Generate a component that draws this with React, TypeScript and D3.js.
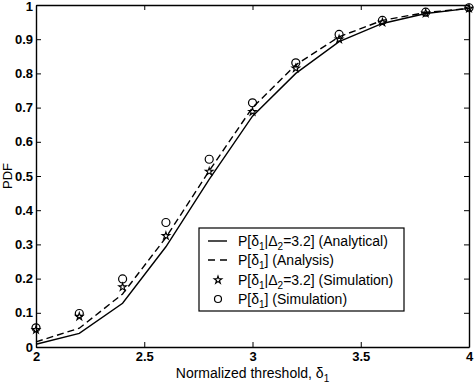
import * as d3 from "d3";
import { useEffect, useRef } from "react";

// normalized threshold values (x)
const thresholds = [2, 2.2, 2.4, 2.6, 2.8, 3.0, 3.2, 3.4, 3.6, 3.8, 4.0];
// P[d1|D2=3.2] analytical (solid)
const analyticalCond = [0.008, 0.04, 0.128, 0.293, 0.49, 0.675, 0.8, 0.893, 0.946, 0.975, 0.99];
// P[d1] analysis (dashed)
const analysisUncond = [0.015, 0.055, 0.155, 0.32, 0.515, 0.7, 0.825, 0.907, 0.955, 0.978, 0.99];
// P[d1|D2=3.2] simulation (stars)
const simCond = [0.05, 0.089, 0.175, 0.325, 0.513, 0.688, 0.815, 0.9, 0.949, 0.976, 0.99];
// P[d1] simulation (circles)
const simUncond = [0.056, 0.098, 0.199, 0.364, 0.549, 0.714, 0.831, 0.914, 0.955, 0.979, 0.992];

const xTicks = [2, 2.5, 3, 3.5, 4];
const yTicks = [0, 0.1, 0.2, 0.3, 0.4, 0.5, 0.6, 0.7, 0.8, 0.9, 1];

const W = 474;
const H = 384;
const FONT = "'Liberation Sans', Arial, Helvetica, sans-serif";

export default function App() {
  const ref = useRef<SVGSVGElement>(null);

  useEffect(() => {
    const svg = d3.select(ref.current);
    svg.selectAll("*").remove();

    const left = 36, right = 469, top = 5, bottom = 347;

    const x = d3.scaleLinear().domain([2, 4]).range([left, right]);
    const y = d3.scaleLinear().domain([0, 1]).range([bottom, top]);

    svg.append("rect").attr("width", W).attr("height", H).attr("fill", "white");

    // axes (MATLAB box style, ticks pointing inward)
    const styleAxis = (g: any) => {
      g.selectAll(".domain").attr("stroke", "#000").attr("stroke-width", 1.4).attr("fill", "none");
      g.selectAll(".tick line").attr("stroke", "#000").attr("stroke-width", 1);
      g.selectAll("text")
        .attr("font-family", FONT)
        .attr("font-size", 13)
        .attr("font-weight", "bold")
        .attr("fill", "#000");
    };

    svg.append("g")
      .attr("transform", `translate(0,${bottom})`)
      .call(d3.axisBottom(x).tickValues(xTicks).tickSizeInner(-5).tickSizeOuter(0).tickPadding(5).tickFormat(d3.format("")))
      .call(styleAxis);
    svg.append("g")
      .attr("transform", `translate(0,${top})`)
      .call(d3.axisTop(x).tickValues(xTicks).tickSizeInner(-5).tickSizeOuter(0).tickFormat(() => ""))
      .call(styleAxis);
    const yAxisG = svg.append("g")
      .attr("transform", `translate(${left},0)`)
      .call(d3.axisLeft(y).tickValues(yTicks).tickSizeInner(-5).tickSizeOuter(0).tickPadding(3).tickFormat(d3.format("")))
      .call(styleAxis);
    // keep the top label inside the picture
    yAxisG.selectAll(".tick text").filter((d: any) => d === 1).attr("dy", "0.45em");
    svg.append("g")
      .attr("transform", `translate(${right},0)`)
      .call(d3.axisRight(y).tickValues(yTicks).tickSizeInner(-5).tickSizeOuter(0).tickFormat(() => ""))
      .call(styleAxis);

    // curves
    const line = d3.line<number>()
      .x((_, i) => x(thresholds[i]))
      .y((d) => y(d));

    svg.append("path")
      .attr("d", line(analyticalCond))
      .attr("fill", "none")
      .attr("stroke", "#000")
      .attr("stroke-width", 1.4);
    svg.append("path")
      .attr("d", line(analysisUncond))
      .attr("fill", "none")
      .attr("stroke", "#000")
      .attr("stroke-width", 1.4)
      .attr("stroke-dasharray", "7,4");

    const star = d3.symbol().type(d3.symbolStar).size(18);

    svg.append("g").selectAll("path")
      .data(simCond)
      .enter()
      .append("path")
      .attr("d", star)
      .attr("transform", (d, i) => `translate(${x(thresholds[i])},${y(d)})`)
      .attr("fill", "none")
      .attr("stroke", "#000")
      .attr("stroke-width", 1.1);

    svg.append("g").selectAll("circle")
      .data(simUncond)
      .enter()
      .append("circle")
      .attr("cx", (d, i) => x(thresholds[i]))
      .attr("cy", (d) => y(d))
      .attr("r", 4)
      .attr("fill", "none")
      .attr("stroke", "#000")
      .attr("stroke-width", 1.2);

    // axis titles
    const xl = svg.append("text")
      .attr("x", (left + right) / 2)
      .attr("y", 378)
      .attr("text-anchor", "middle")
      .attr("font-family", FONT)
      .attr("font-size", 14)
      .attr("fill", "#000");
    xl.append("tspan").text("Normalized threshold, δ");
    xl.append("tspan").attr("font-size", 10).attr("dy", 4).text("1");

    svg.append("text")
      .attr("transform", `translate(12,${(top + bottom) / 2}) rotate(-90)`)
      .attr("text-anchor", "middle")
      .attr("font-family", FONT)
      .attr("font-size", 13)
      .attr("fill", "#000")
      .text("PDF");

    // legend
    const lg = svg.append("g");
    lg.append("rect")
      .attr("x", 199).attr("y", 228)
      .attr("width", 205).attr("height", 83)
      .attr("fill", "white")
      .attr("stroke", "#000")
      .attr("stroke-width", 1.2);

    const rows = [
      { kind: "solid", main: ["P[δ", "1", "|Δ", "2", "=3.2] (Analytical)"] },
      { kind: "dashed", main: ["P[δ", "1", "] (Analysis)"] },
      { kind: "star", main: ["P[δ", "1", "|Δ", "2", "=3.2] (Simulation)"] },
      { kind: "circle", main: ["P[δ", "1", "] (Simulation)"] },
    ];
    const rowY = [241, 260, 280, 299];

    rows.forEach((r, i) => {
      const cy = rowY[i];
      if (r.kind === "solid" || r.kind === "dashed") {
        lg.append("line")
          .attr("x1", 208).attr("x2", 227)
          .attr("y1", cy).attr("y2", cy)
          .attr("stroke", "#000")
          .attr("stroke-width", 1.4)
          .attr("stroke-dasharray", r.kind === "dashed" ? "7,5" : null);
      } else if (r.kind === "star") {
        lg.append("path")
          .attr("d", star)
          .attr("transform", `translate(218,${cy})`)
          .attr("fill", "none")
          .attr("stroke", "#000")
          .attr("stroke-width", 1.1);
      } else {
        lg.append("circle")
          .attr("cx", 218).attr("cy", cy).attr("r", 3.5)
          .attr("fill", "none").attr("stroke", "#000").attr("stroke-width", 1.2);
      }
      const t = lg.append("text")
        .attr("x", 238)
        .attr("y", cy + 5)
        .attr("font-family", FONT)
        .attr("font-size", 14)
        .attr("fill", "#000");
      r.main.forEach((s, k) => {
        const sub = k % 2 === 1;
        const ts = t.append("tspan").text(s);
        if (sub) ts.attr("font-size", 10).attr("dy", 4);
        else if (k > 0) ts.attr("dy", -4);
      });
    });
  }, []);

  return (
    <svg
      ref={ref}
      width={W}
      height={H}
      style={{ position: "absolute", left: 0, top: 0, display: "block" }}
    />
  );
}
